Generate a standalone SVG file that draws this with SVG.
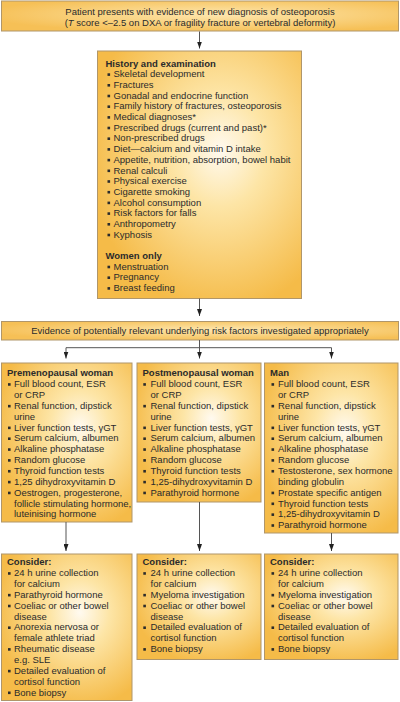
<svg xmlns="http://www.w3.org/2000/svg" width="400" height="702" viewBox="0 0 400 702">
<defs>
<radialGradient id="g" cx="0.6" cy="0.4" r="0.65">
<stop offset="0" stop-color="#fffaf0"/>
<stop offset="0.35" stop-color="#fde5a6"/>
<stop offset="1" stop-color="#f5bb48"/>
</radialGradient>
<radialGradient id="g2" cx="0.55" cy="0.45" r="0.6">
<stop offset="0" stop-color="#fde6ae"/>
<stop offset="1" stop-color="#f6c056"/>
</radialGradient>
<rect id="b" x="0" y="-4" width="2.6" height="2.6" fill="#2b2b2b"/>
<marker id="ah" viewBox="0 0 7 5" refX="7" refY="2.5" markerWidth="7" markerHeight="5" markerUnits="userSpaceOnUse" orient="auto">
<path d="M0,0 L7,2.5 L0,5 z" fill="#222"/>
</marker>
</defs>
<style>
.box{fill:url(#g);stroke:#b0966a;stroke-width:1}
.box2{fill:url(#g2);stroke:#b0966a;stroke-width:1}
text{font-family:"Liberation Sans",Arial,sans-serif;font-size:9.5px;fill:#2b2b2b}
.h{font-weight:bold}
.c{text-anchor:middle}
.ln{stroke:#555;stroke-width:1;fill:none}
.ar{stroke:#555;stroke-width:1;fill:none;marker-end:url(#ah)}
</style>

<g id="n-start">
<rect class="box2" x="1.5" y="1" width="397" height="30"/>
<text class="c" x="200" y="15">Patient presents with evidence of new diagnosis of osteoporosis</text>
<text class="c" x="200" y="26">(<tspan font-style="italic">T</tspan> score &lt;–2.5 on DXA or fragility fracture or vertebral deformity)</text>
</g>

<g id="n-history">
<rect class="box" x="97.5" y="51" width="204" height="247.5"/>
<text class="h" x="105.5" y="66.6">History and examination</text>
<use href="#b" x="107.5" y="77.3"/><text x="113.5" y="77.3">Skeletal development</text>
<use href="#b" x="107.5" y="88"/><text x="113.5" y="88">Fractures</text>
<use href="#b" x="107.5" y="98.7"/><text x="113.5" y="98.7">Gonadal and endocrine function</text>
<use href="#b" x="107.5" y="109.4"/><text x="113.5" y="109.4">Family history of fractures, osteoporosis</text>
<use href="#b" x="107.5" y="120.1"/><text x="113.5" y="120.1">Medical diagnoses*</text>
<use href="#b" x="107.5" y="130.7"/><text x="113.5" y="130.7">Prescribed drugs (current and past)*</text>
<use href="#b" x="107.5" y="141.4"/><text x="113.5" y="141.4">Non-prescribed drugs</text>
<use href="#b" x="107.5" y="152.1"/><text x="113.5" y="152.1">Diet—calcium and vitamin D intake</text>
<use href="#b" x="107.5" y="162.8"/><text x="113.5" y="162.8">Appetite, nutrition, absorption, bowel habit</text>
<use href="#b" x="107.5" y="173.5"/><text x="113.5" y="173.5">Renal calculi</text>
<use href="#b" x="107.5" y="184.2"/><text x="113.5" y="184.2">Physical exercise</text>
<use href="#b" x="107.5" y="194.9"/><text x="113.5" y="194.9">Cigarette smoking</text>
<use href="#b" x="107.5" y="205.6"/><text x="113.5" y="205.6">Alcohol consumption</text>
<use href="#b" x="107.5" y="216.3"/><text x="113.5" y="216.3">Risk factors for falls</text>
<use href="#b" x="107.5" y="227"/><text x="113.5" y="227">Anthropometry</text>
<use href="#b" x="107.5" y="237.7"/><text x="113.5" y="237.7">Kyphosis</text>
<text class="h" x="105.5" y="259">Women only</text>
<use href="#b" x="107.5" y="269.7"/><text x="113.5" y="269.7">Menstruation</text>
<use href="#b" x="107.5" y="280.4"/><text x="113.5" y="280.4">Pregnancy</text>
<use href="#b" x="107.5" y="291.1"/><text x="113.5" y="291.1">Breast feeding</text>
</g>

<g id="n-evidence">
<rect class="box2" x="1.5" y="321.5" width="397" height="18.5"/>
<text class="c" x="200" y="334.3">Evidence of potentially relevant underlying risk factors investigated appropriately</text>
</g>

<g id="n-pre">
<rect class="box" x="1.5" y="363" width="130.5" height="159"/>
<text class="h" x="7" y="376.3">Premenopausal woman</text>
<use href="#b" x="8" y="387.15"/><text x="14" y="387.15">Full blood count, ESR</text>
<text x="14" y="398">or CRP</text>
<use href="#b" x="8" y="408.85"/><text x="14" y="408.85">Renal function, dipstick</text>
<text x="14" y="419.7">urine</text>
<use href="#b" x="8" y="430.55"/><text x="14" y="430.55">Liver function tests, γGT</text>
<use href="#b" x="8" y="441.4"/><text x="14" y="441.4">Serum calcium, albumen</text>
<use href="#b" x="8" y="452.25"/><text x="14" y="452.25">Alkaline phosphatase</text>
<use href="#b" x="8" y="463.1"/><text x="14" y="463.1">Random glucose</text>
<use href="#b" x="8" y="473.95"/><text x="14" y="473.95">Thyroid function tests</text>
<use href="#b" x="8" y="484.8"/><text x="14" y="484.8">1,25 dihydroxyvitamin D</text>
<use href="#b" x="8" y="495.65"/><text x="14" y="495.65">Oestrogen, progesterone,</text>
<text x="14" y="506.5">follicle stimulating hormone,</text>
<text x="14" y="517.35">luteinising hormone</text>
</g>

<g id="n-post">
<rect class="box" x="137" y="363" width="124" height="139"/>
<text class="h" x="142.5" y="376.3">Postmenopausal woman</text>
<use href="#b" x="143.3" y="387.15"/><text x="150.5" y="387.15">Full blood count, ESR</text>
<text x="150.5" y="398">or CRP</text>
<use href="#b" x="143.3" y="408.85"/><text x="150.5" y="408.85">Renal function, dipstick</text>
<text x="150.5" y="419.7">urine</text>
<use href="#b" x="143.3" y="430.55"/><text x="150.5" y="430.55">Liver function tests, γGT</text>
<use href="#b" x="143.3" y="441.4"/><text x="150.5" y="441.4">Serum calcium, albumen</text>
<use href="#b" x="143.3" y="452.25"/><text x="150.5" y="452.25">Alkaline phosphatase</text>
<use href="#b" x="143.3" y="463.1"/><text x="150.5" y="463.1">Random glucose</text>
<use href="#b" x="143.3" y="473.95"/><text x="150.5" y="473.95">Thyroid function tests</text>
<use href="#b" x="143.3" y="484.8"/><text x="150.5" y="484.8">1,25-dihydroxyvitamin D</text>
<use href="#b" x="143.3" y="495.65"/><text x="150.5" y="495.65">Parathyroid hormone</text>
</g>

<g id="n-man">
<rect class="box" x="264.5" y="363" width="133.5" height="170"/>
<text class="h" x="270" y="376.3">Man</text>
<use href="#b" x="271.5" y="387.15"/><text x="278" y="387.15">Full blood count, ESR</text>
<text x="278" y="398">or CRP</text>
<use href="#b" x="271.5" y="408.85"/><text x="278" y="408.85">Renal function, dipstick</text>
<text x="278" y="419.7">urine</text>
<use href="#b" x="271.5" y="430.55"/><text x="278" y="430.55">Liver function tests, γGT</text>
<use href="#b" x="271.5" y="441.4"/><text x="278" y="441.4">Serum calcium, albumen</text>
<use href="#b" x="271.5" y="452.25"/><text x="278" y="452.25">Alkaline phosphatase</text>
<use href="#b" x="271.5" y="463.1"/><text x="278" y="463.1">Random glucose</text>
<use href="#b" x="271.5" y="473.95"/><text x="278" y="473.95">Testosterone, sex hormone</text>
<text x="278" y="484.8">binding globulin</text>
<use href="#b" x="271.5" y="495.65"/><text x="278" y="495.65">Prostate specific antigen</text>
<use href="#b" x="271.5" y="506.5"/><text x="278" y="506.5">Thyroid function tests</text>
<use href="#b" x="271.5" y="517.35"/><text x="278" y="517.35">1,25-dihydroxyvitamin D</text>
<use href="#b" x="271.5" y="528.2"/><text x="278" y="528.2">Parathyroid hormone</text>
</g>

<g id="n-consider-pre">
<rect class="box" x="1.5" y="554" width="130.5" height="146.5"/>
<text class="h" x="7" y="565.3">Consider:</text>
<use href="#b" x="8" y="576.15"/><text x="14" y="576.15">24 h urine collection</text>
<text x="14" y="587">for calcium</text>
<use href="#b" x="8" y="597.85"/><text x="14" y="597.85">Parathyroid hormone</text>
<use href="#b" x="8" y="608.7"/><text x="14" y="608.7">Coeliac or other bowel</text>
<text x="14" y="619.55">disease</text>
<use href="#b" x="8" y="630.4"/><text x="14" y="630.4">Anorexia nervosa or</text>
<text x="14" y="641.25">female athlete triad</text>
<use href="#b" x="8" y="652.1"/><text x="14" y="652.1">Rheumatic disease</text>
<text x="14" y="662.95">e.g. SLE</text>
<use href="#b" x="8" y="673.8"/><text x="14" y="673.8">Detailed evaluation of</text>
<text x="14" y="684.65">cortisol function</text>
<use href="#b" x="8" y="695.5"/><text x="14" y="695.5">Bone biopsy</text>
</g>

<g id="n-consider-post">
<rect class="box" x="137" y="554" width="124" height="105.5"/>
<text class="h" x="142.5" y="565.3">Consider:</text>
<use href="#b" x="143.3" y="576.15"/><text x="150.5" y="576.15">24 h urine collection</text>
<text x="150.5" y="587">for calcium</text>
<use href="#b" x="143.3" y="597.85"/><text x="150.5" y="597.85">Myeloma investigation</text>
<use href="#b" x="143.3" y="608.7"/><text x="150.5" y="608.7">Coeliac or other bowel</text>
<text x="150.5" y="619.55">disease</text>
<use href="#b" x="143.3" y="630.4"/><text x="150.5" y="630.4">Detailed evaluation of</text>
<text x="150.5" y="641.25">cortisol function</text>
<use href="#b" x="143.3" y="652.1"/><text x="150.5" y="652.1">Bone biopsy</text>
</g>

<g id="n-consider-man">
<rect class="box" x="264.5" y="554" width="133.5" height="105.5"/>
<text class="h" x="270" y="565.3">Consider:</text>
<use href="#b" x="271.5" y="576.15"/><text x="278" y="576.15">24 h urine collection</text>
<text x="278" y="587">for calcium</text>
<use href="#b" x="271.5" y="597.85"/><text x="278" y="597.85">Myeloma investigation</text>
<use href="#b" x="271.5" y="608.7"/><text x="278" y="608.7">Coeliac or other bowel</text>
<text x="278" y="619.55">disease</text>
<use href="#b" x="271.5" y="630.4"/><text x="278" y="630.4">Detailed evaluation of</text>
<text x="278" y="641.25">cortisol function</text>
<use href="#b" x="271.5" y="652.1"/><text x="278" y="652.1">Bone biopsy</text>
</g>

<g id="connectors">
<path class="ar" d="M199.5,31.5 V48.5"/>
<path class="ar" d="M199.5,298.5 V316"/>
<path class="ar" d="M199.5,340 V358.5"/>
<path class="ln" d="M66,347.7 H331.5"/>
<path class="ar" d="M66,347.7 V358.5"/>
<path class="ar" d="M331.5,347.7 V358.5"/>
<path class="ar" d="M66,522 V551"/>
<path class="ar" d="M199.5,502 V551"/>
<path class="ar" d="M331.5,533 V551"/>
</g>
</svg>
